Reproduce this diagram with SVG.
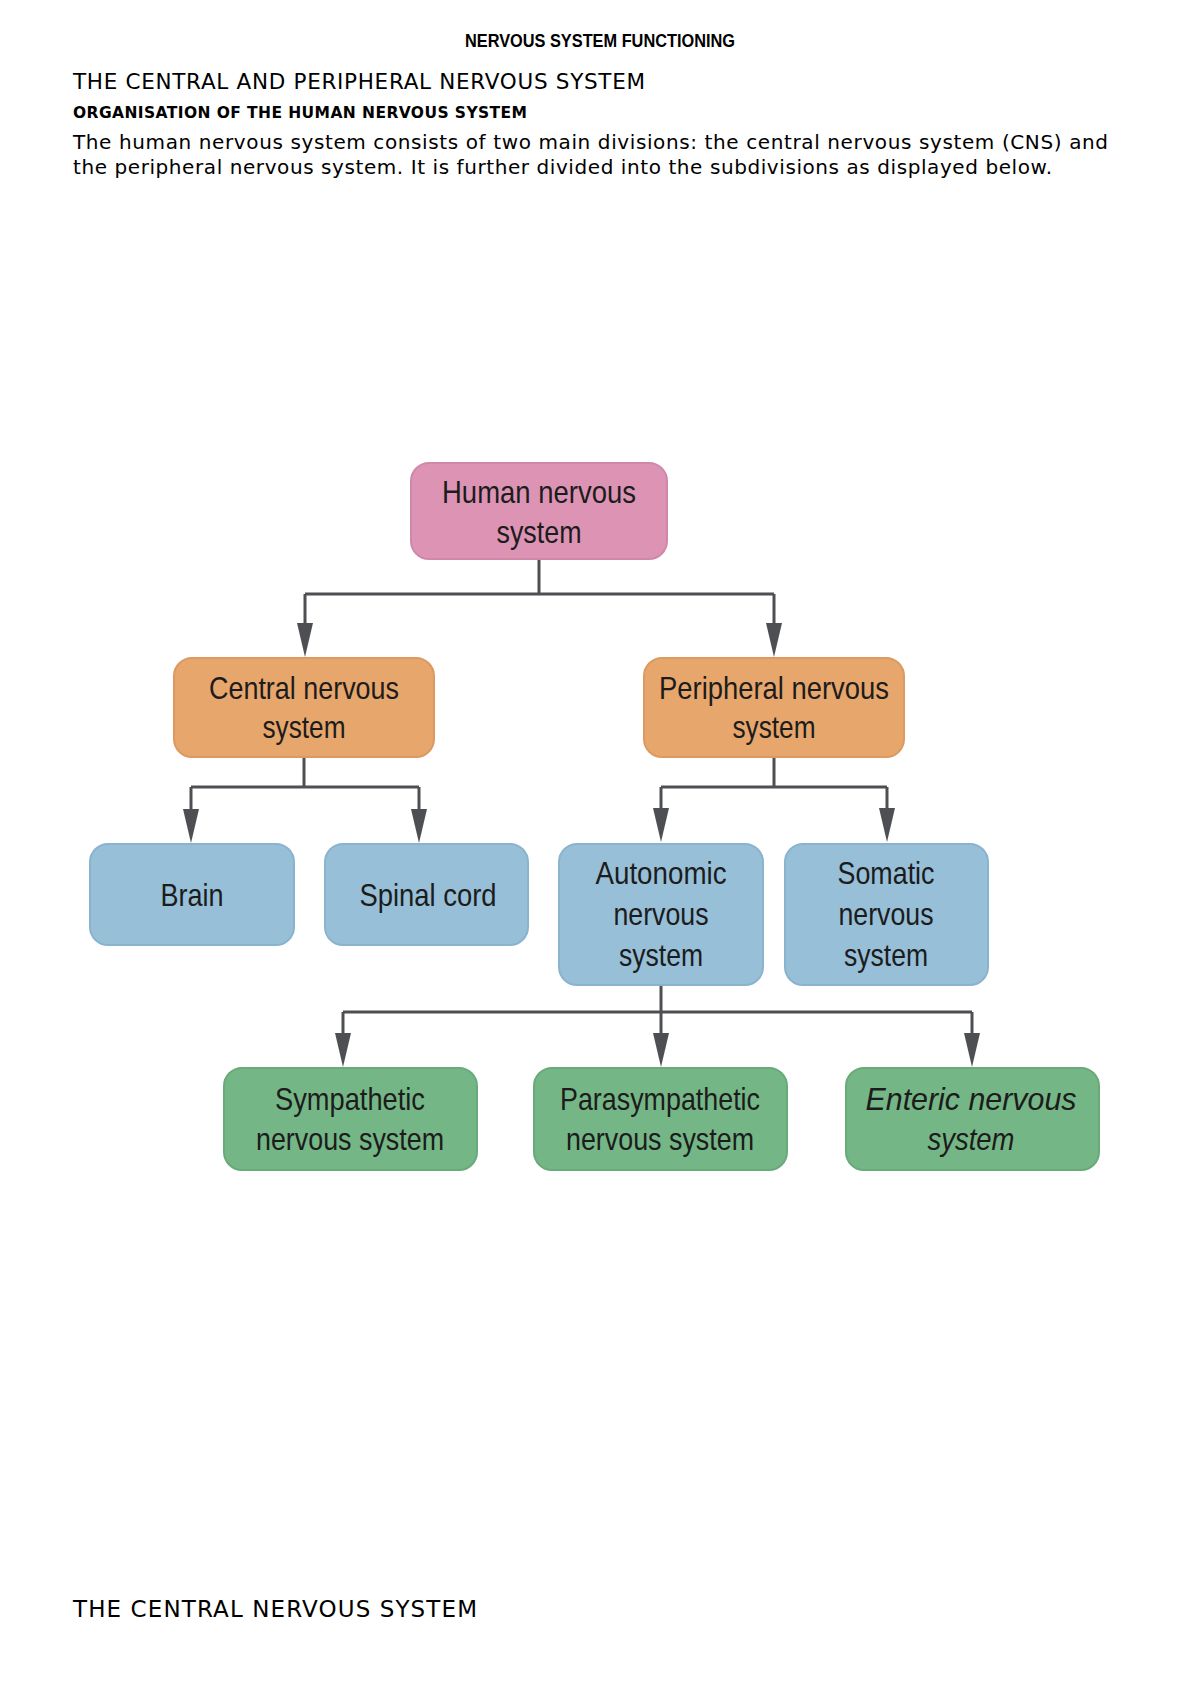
<svg xmlns="http://www.w3.org/2000/svg" width="1200" height="1698" viewBox="0 0 1200 1698">
<style>
.doc{font-family:"DejaVu Sans",Verdana,sans-serif;fill:#000}
.title{font-family:"Liberation Sans Narrow","Liberation Sans",Arial,sans-serif;font-weight:bold;font-size:18px;fill:#000}
.lbl{font-family:"Liberation Sans Narrow","Liberation Sans",Arial,sans-serif;font-size:32px;fill:#1c1c1c;text-anchor:middle}
.it{font-style:italic}
.pink{fill:#dd94b4;stroke:#d088a8;stroke-width:2}
.orange{fill:#e7a66c;stroke:#dc9a60;stroke-width:2}
.blue{fill:#97bfd8;stroke:#8ab3cd;stroke-width:2}
.green{fill:#75b686;stroke:#69aa7a;stroke-width:2}
.shade{fill:none;stroke-width:3;opacity:0.5}
.conn path{fill:none;stroke:#4d4f52;stroke-width:3}
</style>
<defs>
<marker id="arr" viewBox="0 0 34 16" refX="24" refY="8" markerWidth="34" markerHeight="16" markerUnits="userSpaceOnUse" orient="auto">
<path d="M0,0 L34,8 L0,16 z" fill="#4d4f52"/>
</marker>
</defs>
<rect width="1200" height="1698" fill="#ffffff"/>
<text class="title" x="600" y="47" text-anchor="middle" textLength="270" lengthAdjust="spacingAndGlyphs">NERVOUS SYSTEM FUNCTIONING</text>
<text class="doc" x="73" y="89" font-size="21.5" textLength="572" lengthAdjust="spacing">THE CENTRAL AND PERIPHERAL NERVOUS SYSTEM</text>
<text class="doc" x="73" y="118" font-size="15.5" font-weight="bold" textLength="454" lengthAdjust="spacing">ORGANISATION OF THE HUMAN NERVOUS SYSTEM</text>
<text class="doc" x="73" y="149" font-size="20" textLength="1035" lengthAdjust="spacing">The human nervous system consists of two main divisions: the central nervous system (CNS) and</text>
<text class="doc" x="73" y="174" font-size="20" textLength="979" lengthAdjust="spacing">the peripheral nervous system. It is further divided into the subdivisions as displayed below.</text>
<text class="doc" x="73" y="1617" font-size="23" textLength="404" lengthAdjust="spacing">THE CENTRAL NERVOUS SYSTEM</text>

<g id="connectors" class="conn">
<path d="M539,559 V594"/>
<path d="M305,594 H774"/>
<path d="M305,594 V647" marker-end="url(#arr)"/>
<path d="M774,594 V647" marker-end="url(#arr)"/>
<path d="M304,757 V787"/>
<path d="M191,787 H419"/>
<path d="M191,787 V833" marker-end="url(#arr)"/>
<path d="M419,787 V833" marker-end="url(#arr)"/>
<path d="M774,757 V787"/>
<path d="M661,787 H887"/>
<path d="M661,787 V832" marker-end="url(#arr)"/>
<path d="M887,787 V832" marker-end="url(#arr)"/>
<path d="M661,985 V1012"/>
<path d="M343,1012 H972"/>
<path d="M343,1012 V1057" marker-end="url(#arr)"/>
<path d="M661,1012 V1057" marker-end="url(#arr)"/>
<path d="M972,1012 V1057" marker-end="url(#arr)"/>
</g>

<g id="human">
<rect class="pink" x="411" y="463" width="256" height="96" rx="18"/>
<text class="lbl" x="539" y="503" textLength="194" lengthAdjust="spacingAndGlyphs">Human nervous</text>
<text class="lbl" x="539" y="543" textLength="85" lengthAdjust="spacingAndGlyphs">system</text>
</g>
<g id="cns">
<rect class="orange" x="174" y="658" width="260" height="99" rx="18"/>
<text class="lbl" x="304" y="699" textLength="190" lengthAdjust="spacingAndGlyphs">Central nervous</text>
<text class="lbl" x="304" y="738" textLength="83" lengthAdjust="spacingAndGlyphs">system</text>
</g>
<g id="pns">
<rect class="orange" x="644" y="658" width="260" height="99" rx="18"/>
<text class="lbl" x="774" y="699" textLength="230" lengthAdjust="spacingAndGlyphs">Peripheral nervous</text>
<text class="lbl" x="774" y="738" textLength="83" lengthAdjust="spacingAndGlyphs">system</text>
</g>
<g id="brain">
<rect class="blue" x="90" y="844" width="204" height="101" rx="18"/>
<text class="lbl" x="192" y="906" textLength="63" lengthAdjust="spacingAndGlyphs">Brain</text>
</g>
<g id="spinal">
<rect class="blue" x="325" y="844" width="203" height="101" rx="18"/>
<text class="lbl" x="428" y="906" textLength="137" lengthAdjust="spacingAndGlyphs">Spinal cord</text>
</g>
<g id="autonomic">
<rect class="blue" x="559" y="844" width="204" height="141" rx="18"/>
<text class="lbl" x="661" y="884" textLength="131" lengthAdjust="spacingAndGlyphs">Autonomic</text>
<text class="lbl" x="661" y="925" textLength="95" lengthAdjust="spacingAndGlyphs">nervous</text>
<text class="lbl" x="661" y="966" textLength="84" lengthAdjust="spacingAndGlyphs">system</text>
</g>
<g id="somatic">
<rect class="blue" x="785" y="844" width="203" height="141" rx="18"/>
<text class="lbl" x="886" y="884" textLength="97" lengthAdjust="spacingAndGlyphs">Somatic</text>
<text class="lbl" x="886" y="925" textLength="95" lengthAdjust="spacingAndGlyphs">nervous</text>
<text class="lbl" x="886" y="966" textLength="84" lengthAdjust="spacingAndGlyphs">system</text>
</g>
<g id="sympathetic">
<rect class="green" x="224" y="1068" width="253" height="102" rx="18"/>
<text class="lbl" x="350" y="1110" textLength="150" lengthAdjust="spacingAndGlyphs">Sympathetic</text>
<text class="lbl" x="350" y="1150" textLength="188" lengthAdjust="spacingAndGlyphs">nervous system</text>
</g>
<g id="parasympathetic">
<rect class="green" x="534" y="1068" width="253" height="102" rx="18"/>
<text class="lbl" x="660" y="1110" textLength="200" lengthAdjust="spacingAndGlyphs">Parasympathetic</text>
<text class="lbl" x="660" y="1150" textLength="188" lengthAdjust="spacingAndGlyphs">nervous system</text>
</g>
<g id="enteric">
<rect class="green" x="846" y="1068" width="253" height="102" rx="18"/>
<text class="lbl it" x="971" y="1110" textLength="211" lengthAdjust="spacingAndGlyphs">Enteric nervous</text>
<text class="lbl it" x="971" y="1150" textLength="87" lengthAdjust="spacingAndGlyphs">system</text>
</g>
</svg>
